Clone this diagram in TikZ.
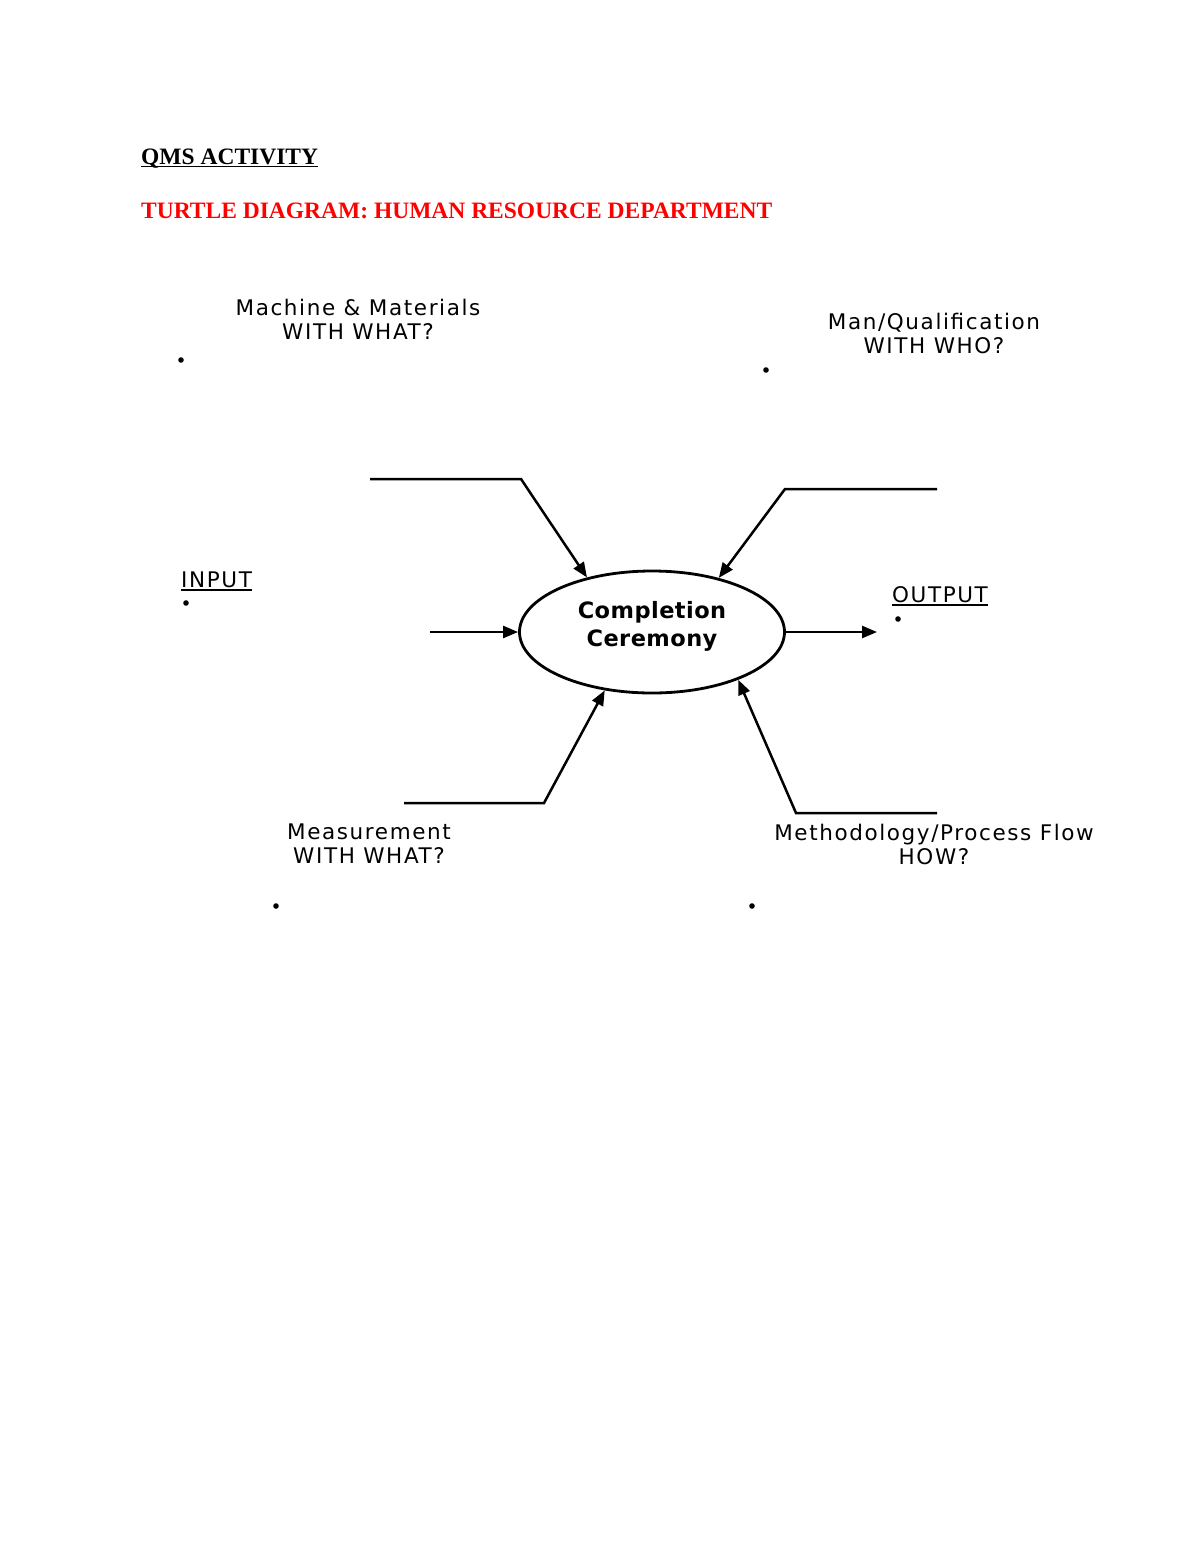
\documentclass[tikz,border=0pt]{standalone}
\usepackage{fontspec}
\setmainfont{Liberation Serif}
\newfontfamily\lblfont[LetterSpace=7.5]{DejaVu Sans}
\newfontfamily\ovalfont[LetterSpace=2]{DejaVu Sans}
\usetikzlibrary{shapes.geometric,arrows.meta}

\tikzset{
  heading/.style={anchor=base west, inner sep=0pt, font=\bfseries\fontsize{23.5}{28}\selectfont},
  lbl/.style={align=center, inner sep=0pt, font=\lblfont\fontsize{21.5}{24}\selectfont},
  feed/.style={line width=2.5pt, -{Triangle[length=15pt,width=12pt]}},
  uline/.style={line width=1.8pt},
}

\begin{document}
\begin{tikzpicture}[x=1pt,y=-1pt]
  \useasboundingbox (0,0) rectangle (1200,1553);

  % Headings
  \node[heading] (qms) at (141,164) {QMS ACTIVITY};
  \node[heading, text=red] (turtle) at (141,218) {TURTLE DIAGRAM: HUMAN RESOURCE DEPARTMENT};
  \draw[uline] ([yshift=-2.5pt]qms.base west) -- ([yshift=-2.5pt]qms.base east);

  % Process
  \node[ellipse, draw, line width=2.8pt, minimum width=265pt, minimum height=122pt,
        inner sep=0pt, font=\ovalfont\bfseries\fontsize{22.5}{28}\selectfont]
        (ccer) at (652,632) {\shortstack{Completion\\[4pt]Ceremony}\rule[-16pt]{0pt}{16pt}};

  % Labels
  \node[lbl] (mach) at (358,319) {Machine \& Materials\\WITH WHAT?};
  \node[lbl] (man) at (934,333) {Man/Qualification\\WITH WHO?};
  \node[lbl] (meas) at (369,844) {Measurement\\WITH WHAT?};
  \node[lbl] (meth) at (934,844) {Methodology/Process Flow\\HOW?};
  \node[lbl, anchor=base west] (inp) at (181,587) {INPUT};
  \node[lbl, anchor=base west] (outp) at (892,602) {OUTPUT};
  \draw[uline] ([yshift=-3pt]inp.base west) -- ([yshift=-3pt]inp.base east);
  \draw[uline] ([yshift=-3pt]outp.base west) -- ([yshift=-3pt]outp.base east);

  % Bullets
  \coordinate (b1) at (181,360);
  \coordinate (b2) at (766,370);
  \coordinate (b3) at (186,603);
  \coordinate (b4) at (898,619);
  \coordinate (b5) at (276,906);
  \coordinate (b6) at (752,906);
  \foreach \b in {b1,b2,b3,b4,b5,b6}
    \fill (\b) circle (2.8pt);

  % Arrow corners
  \coordinate (tl1) at (370,479);
  \coordinate (tl2) at (521,479);
  \coordinate (tr1) at (937,489);
  \coordinate (tr2) at (785,489);
  \coordinate (bl1) at (404,803);
  \coordinate (bl2) at (544,803);
  \coordinate (br1) at (937,813);
  \coordinate (br2) at (796,813);
  \coordinate (in1) at (430,632);
  \coordinate (out1) at (877,632);

  \draw[feed] (tl1) -- (tl2) -- (ccer.140);
  \draw[feed] (tr1) -- (tr2) -- (ccer.39);
  \draw[feed] (bl1) -- (bl2) -- (ccer.231);
  \draw[feed] (br1) -- (br2) -- (ccer.-29);
  \draw[feed] (in1) -- (ccer.west);
  \draw[feed] (ccer.east) -- (out1);
\end{tikzpicture}
\end{document}
